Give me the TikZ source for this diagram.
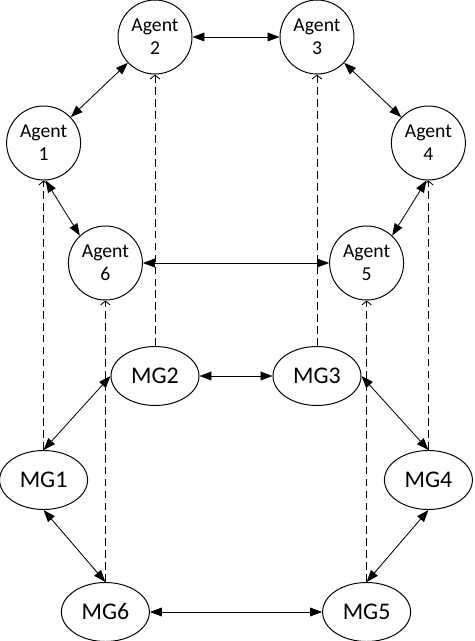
\documentclass[tikz,border=0pt]{standalone}
\usepackage{fontspec}
\setmainfont{Carlito}
\usetikzlibrary{positioning, arrows.meta, shapes.geometric}
\tikzset{
on grid, % distances are measured between the centres of the nodes
agent/.style={circle, draw, line width=0.7pt, minimum size=1.85cm, inner sep=0pt, align=center, font=\fontsize{14}{16.5}\selectfont}, % the agent circles
mgnode/.style={ellipse, draw, line width=0.7pt, minimum width=2.2cm, minimum height=1.475cm, inner sep=0pt, font=\fontsize{17}{20}\selectfont}, % the microgrid ellipses
link/.style={{Triangle[length=3mm, width=2.2mm]}-{Triangle[length=3mm, width=2.2mm]}, line width=0.6pt}, % two-way links
sense/.style={-{Straight Barb[length=1mm, width=2.4mm]}, dash pattern=on 5.5pt off 3pt, line width=0.6pt}, % dashed links from MG to agent
}

\begin{document}
\begin{tikzpicture}
            \useasboundingbox (0,0) rectangle (11.85,-16.025);
            % agents
            \node[agent] (a2) at (3.875,-0.925) {Agent\\2};
            \node[agent, right=4.05cm of a2] (a3) {Agent\\3};
            \node[agent, below left=2.65cm and 2.785cm of a2] (a1) {Agent\\1};
            \node[agent, below right=2.65cm and 2.785cm of a3] (a4) {Agent\\4};
            \node[agent, below right=3cm and 1.545cm of a1] (a6) {Agent\\6};
            \node[agent, below left=3cm and 1.545cm of a4] (a5) {Agent\\5};
            % microgrids
            \node[mgnode, below=8.475cm of a2] (mg2) {MG2};
            \node[mgnode, below=8.475cm of a3] (mg3) {MG3};
            \node[mgnode, below=8.425cm of a1] (mg1) {MG1};
            \node[mgnode, below=8.425cm of a4] (mg4) {MG4};
            \node[mgnode, below=8.725cm of a6] (mg6) {MG6};
            \node[mgnode, below=8.725cm of a5] (mg5) {MG5};
            \draw[link] (a2) -- (a3);
            \draw[link] (a1) -- (a2);
            \draw[link] (a3) -- (a4);
            \draw[link] (a1.-87) -- (a6.133);
            \draw[link] (a4.-93) -- (a5.47);
            \draw[link] (a6) -- (a5);
            \draw[link] (mg2) -- (mg3);
            \draw[link] (mg2.west) -- (mg1.north);
            \draw[link] (mg3.east) -- (mg4.north);
            \draw[link] (mg1.south) -- (mg6.north);
            \draw[link] (mg4.south) -- (mg5.north);
            \draw[link] (mg6) -- (mg5);
            \draw[sense] (mg1.north) -- (a1.south);
            \draw[sense] (mg2.north) -- (a2.south);
            \draw[sense] (mg3.north) -- (a3.south);
            \draw[sense] (mg4.north) -- (a4.south);
            \draw[sense] (mg5.north) -- (a5.south);
            \draw[sense] (mg6.north) -- (a6.south);
        \end{tikzpicture}
\end{document}
